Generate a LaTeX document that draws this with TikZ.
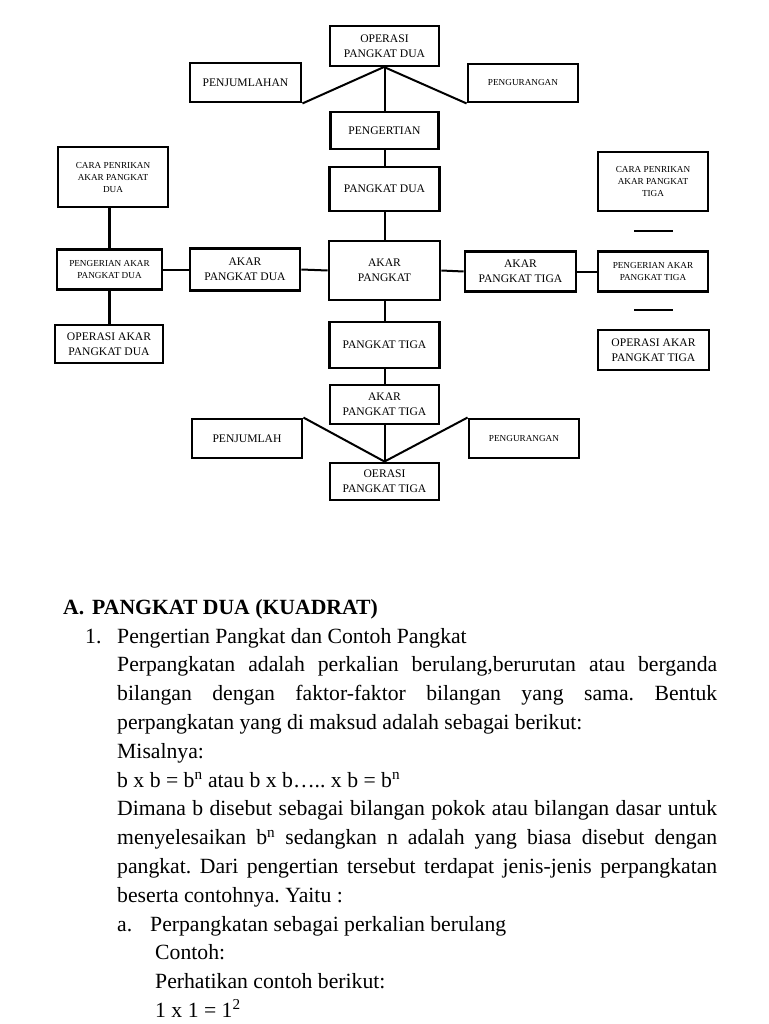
\documentclass[tikz,border=0pt]{standalone}
\usepackage{fontspec}
\setmainfont{Liberation Serif}
\frenchspacing
\newcommand{\fullline}[1]{\makebox[600pt][s]{#1}}

\begin{document}
\begin{tikzpicture}[
    x=1pt, y=-1pt,
    box/.style={rectangle, draw=black, line width=2.9pt, inner sep=0pt, align=center, font=\fontsize{11.6}{15}\selectfont},
    smallbox/.style={box, font=\fontsize{9.2}{12}\selectfont},
    link/.style={line width=2pt},
    body/.style={anchor=base west, inner sep=0pt, font=\fontsize{21.7}{28}\selectfont}
]
    \fill[white] (0,0) rectangle (768,1024);
    \useasboundingbox (0,0) rectangle (768,1024);

    % Top: operasi pangkat dua
    \node[box, minimum width=109pt, minimum height=40pt] (opdua) at (384.5,46) {OPERASI\\PANGKAT DUA};
    \node[box, minimum width=111pt, minimum height=39pt] (jumlahdua) at (245.5,82.5) {PENJUMLAHAN};
    \node[smallbox, minimum width=110pt, minimum height=38pt] (kurangdua) at (523,83) {PENGURANGAN};
    \node[box, minimum width=108pt, minimum height=37pt] (pengertian) at (384.5,130.5) {PENGERTIAN};
    \coordinate (opdua-foot) at (384,67);
    \draw[link] (opdua-foot) -- (jumlahdua.south east);
    \draw[link] (opdua-foot) -- (kurangdua.south west);
    \draw[link] (opdua) -- (pengertian);

    % Middle column
    \node[box, minimum width=110pt, minimum height=44pt] (pdua) at (384.5,189) {PANGKAT DUA};
    \node[box, minimum width=111pt, minimum height=59pt] (akar) at (384.5,270.5) {AKAR\\PANGKAT};
    \node[box, minimum width=110pt, minimum height=46pt] (ptiga) at (384.5,345) {PANGKAT TIGA};
    \draw[link] (pengertian) -- (pdua);
    \draw[link] (pdua) -- (akar);
    \draw[link] (akar) -- (ptiga);

    % Left: akar pangkat dua
    \node[smallbox, minimum width=110pt, minimum height=60pt] (caradua) at (113,177) {CARA PENRIKAN\\AKAR PANGKAT\\DUA};
    \node[smallbox, minimum width=105pt, minimum height=40pt] (pengdua) at (109.5,269.5) {PENGERIAN AKAR\\PANGKAT DUA};
    \node[box, minimum width=110pt, minimum height=42pt] (akardua) at (245,269.5) {AKAR\\PANGKAT DUA};
    \node[box, minimum width=108pt, minimum height=38pt] (opakardua) at (109,344) {OPERASI AKAR\\PANGKAT DUA};
    \draw[line width=2.9pt] (caradua.south -| pengdua.north) -- (pengdua.north);
    \draw[line width=2.9pt] (pengdua.south) -- (pengdua.south |- opakardua.north);
    \draw[link] (akar.west) -- (akardua.east);
    \draw[link] (akardua.west) -- (pengdua.east);

    % Right: akar pangkat tiga
    \node[smallbox, minimum width=110pt, minimum height=59pt] (caratiga) at (653,181.5) {CARA PENRIKAN\\AKAR PANGKAT\\TIGA};
    \node[box, minimum width=111pt, minimum height=40pt] (akartiga) at (520.5,271.5) {AKAR\\PANGKAT TIGA};
    \node[smallbox, minimum width=110pt, minimum height=40pt] (pengtiga) at (653,271.5) {PENGERIAN AKAR\\PANGKAT TIGA};
    \node[box, minimum width=111pt, minimum height=40pt] (opakartiga) at (653.5,350) {OPERASI AKAR\\PANGKAT TIGA};
    \draw[link] (akar.east) -- (akartiga.west);
    \draw[link] (akartiga.east) -- (pengtiga.west);
    \coordinate (gapa-l) at (634,231);
    \coordinate (gapa-r) at (673,231);
    \coordinate (gapb-l) at (634,310);
    \coordinate (gapb-r) at (673,310);
    \draw[link] (gapa-l) -- (gapa-r);
    \draw[link] (gapb-l) -- (gapb-r);

    % Bottom: operasi pangkat tiga
    \node[box, minimum width=109pt, minimum height=39pt] (akartigab) at (384.5,404.5) {AKAR\\PANGKAT TIGA};
    \node[box, minimum width=110pt, minimum height=39pt] (jumlahtiga) at (247,438.5) {PENJUMLAH};
    \node[smallbox, minimum width=110pt, minimum height=39pt] (kurangtiga) at (524,438.5) {PENGURANGAN};
    \node[box, minimum width=109pt, minimum height=37pt] (optiga) at (384.5,481.5) {OERASI\\PANGKAT TIGA};
    \draw[link] (ptiga) -- (akartigab);
    \draw[link] (akartigab) -- (optiga);
    \draw[link] (jumlahtiga.north east) -- (optiga.north);
    \draw[link] (kurangtiga.north west) -- (optiga.north);

    % Text below
    \node[body, font=\fontsize{21.7}{28}\selectfont\bfseries] (judul) at (63,614) {\makebox[29pt][l]{A.}PANGKAT DUA (KUADRAT)};
    \node[body] (t1) at (85,643) {\makebox[32pt][l]{1.}Pengertian Pangkat dan Contoh Pangkat};
    \node[body] (t2) at (117,671.8) {\fullline{Perpangkatan adalah perkalian berulang,berurutan atau berganda}};
    \node[body] (t3) at (117,700.6) {\fullline{bilangan dengan faktor-faktor bilangan yang sama. Bentuk}};
    \node[body] (t4) at (117,729.4) {perpangkatan yang di maksud adalah sebagai berikut:};
    \node[body] (t5) at (117,758.2) {Misalnya:};
    \node[body] (t6) at (117,787) {b x b = b\textsuperscript{n} atau b x b….. x b = b\textsuperscript{n}};
    \node[body] (t7) at (117,815.8) {\fullline{Dimana b disebut sebagai bilangan pokok atau bilangan dasar untuk}};
    \node[body] (t8) at (117,844.6) {\fullline{menyelesaikan b\textsuperscript{n} sedangkan n adalah yang biasa disebut dengan}};
    \node[body] (t9) at (117,873.4) {\fullline{pangkat. Dari pengertian tersebut terdapat jenis-jenis perpangkatan}};
    \node[body] (t10) at (117,902.2) {beserta contohnya. Yaitu :};
    \node[body] (t11) at (117,931) {\makebox[33pt][l]{a.}Perpangkatan sebagai perkalian berulang};
    \node[body] (t12) at (155,959.8) {Contoh:};
    \node[body] (t13) at (155,988.6) {Perhatikan contoh berikut:};
    \node[body] (t14) at (155,1017.4) {1 x 1 = 1\textsuperscript{2}};

\end{tikzpicture}
\end{document}
